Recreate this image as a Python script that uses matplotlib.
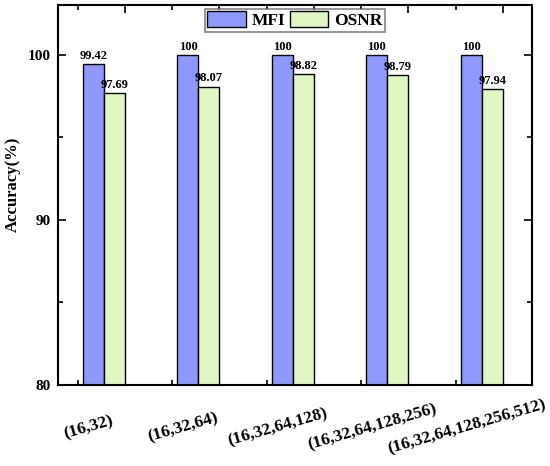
import numpy as np
import matplotlib
matplotlib.use("Agg")
import matplotlib.pyplot as plt
from matplotlib.ticker import MultipleLocator, FixedLocator

categories = ["(16,32)", "(16,32,64)", "(16,32,64,128)", "(16,32,64,128,256)", "(16,32,64,128,256,512)"]
mfi = [99.42, 100, 100, 100, 100]
osnr = [97.69, 98.07, 98.82, 98.79, 97.94]
series_names = ["MFI", "OSNR"]
y_label = "Accuracy(%)"

plt.rcParams['font.family'] = ['Liberation Serif', 'DejaVu Serif']
plt.rcParams['font.weight'] = 'bold'

fig = plt.figure(figsize=(5.5, 4.66), dpi=100)
ax = fig.add_axes([0.1055, 0.1738, 0.8615, 0.8152])

x = np.arange(len(categories))
w = 0.222
c_mfi = '#8F99FD'
c_osnr = '#E0F7C3'
b1 = ax.bar(x - w / 2, mfi, w, color=c_mfi, edgecolor='black', linewidth=1.0, label=series_names[0], zorder=2)
b2 = ax.bar(x + w / 2, osnr, w, color=c_osnr, edgecolor='black', linewidth=1.0, label=series_names[1], zorder=2)

for bars, vals in ((b1, mfi), (b2, osnr)):
    for rect, v in zip(bars, vals):
        ax.annotate(f"{v:g}", (rect.get_x() + rect.get_width() / 2, v),
                    xytext=(0, 1.5), textcoords='offset points',
                    ha='center', va='bottom', fontsize=9, fontweight='bold')

ax.set_ylim(80, 103)
ax.set_xlim(-0.487, 4.53)
ax.yaxis.set_major_locator(MultipleLocator(10))
ax.yaxis.set_minor_locator(MultipleLocator(5))

# major ticks sit on the right edges of the OSNR bars, minor ticks left of groups
ax.set_xticks(x + w)
ax.set_xticklabels([])
ax.xaxis.set_minor_locator(FixedLocator(x - 0.275))
for xi, lab in zip(x, categories):
    ax.annotate(lab, xy=(xi - 0.16, 0), xycoords=('data', 'axes fraction'),
                xytext=(0, -30.5), textcoords='offset points',
                ha='center', va='center', rotation=16,
                fontsize=12.5, fontweight='bold', annotation_clip=False)

ax.tick_params(axis='both', which='both', direction='in', top=True, right=True, width=1.2)
ax.tick_params(axis='both', which='major', length=6)
ax.tick_params(axis='both', which='minor', length=3.5)
ax.tick_params(axis='y', which='major', pad=5, labelsize=11)
for lbl in ax.get_yticklabels():
    lbl.set_fontweight('bold')

for s in ax.spines.values():
    s.set_linewidth(1.5)

ax.set_ylabel(y_label, fontsize=12, fontweight='bold')
ax.yaxis.set_label_coords(-0.078, 0.529)

leg = ax.legend(loc='upper center', ncol=2, frameon=True, fancybox=False,
                edgecolor='#666666', prop={'weight': 'bold', 'size': 12.5},
                handlelength=2.2, handleheight=1.0, handletextpad=0.35,
                columnspacing=0.25, borderpad=0.15, borderaxespad=0.2)
leg.get_frame().set_linewidth(1.2)

fig.savefig("out.png", dpi=100)
